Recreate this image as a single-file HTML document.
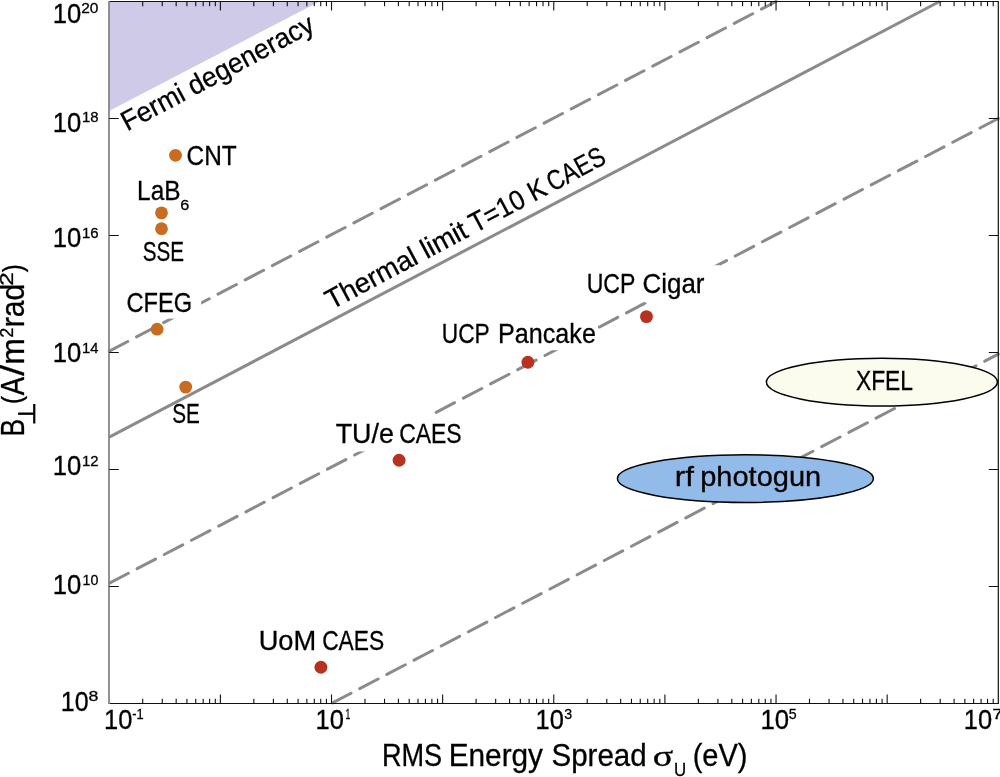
<!DOCTYPE html>
<html><head><meta charset="utf-8"><style>
html,body{margin:0;padding:0;background:#fff;}
svg{display:block;}
text{fill:#000;stroke:#000;stroke-width:0.3px;}
</style></head><body>
<svg width="1000" height="777" viewBox="0 0 1000 777">
<rect width="1000" height="777" fill="#fff"/>
<polygon points="109,111 319.5,1.5 109,1.5" fill="#cecae8"/>
<g fill="none" stroke="#8b8b8b" stroke-width="3" stroke-linecap="round">
<path d="M109.25 437.2L939.6 1.5" stroke-linecap="butt"/>
<g stroke-dasharray="20.8 9.88">
<path d="M109.25 351.2L776 1.5" stroke-dashoffset="-0.09"/>
<path d="M109.25 583.26L998.3 118.46" stroke-dashoffset="-0.77"/>
<path d="M331.4 703.5L998.3 354.1" stroke-dashoffset="-1.27"/>
</g></g>
<g fill="#fff">
<rect x="120" y="283" width="81.2" height="35.6"/>
<rect x="436" y="314" width="161.5" height="36.2"/>
<rect x="329" y="414.6" width="140" height="36.8"/>
<rect x="580" y="265.2" width="140" height="37"/>
</g>
<path d="M109.25 1.5H998.3V703.5H109.25" fill="none" stroke="#111" stroke-width="1.2"/>
<path d="M109 1V704.1" stroke="#7f7f7f" stroke-width="1.7"/>
<path d="M142.7 703.5V698.8M142.7 1.5V6.2M162.27 703.5V698.8M162.27 1.5V6.2M176.16 703.5V698.8M176.16 1.5V6.2M186.93 703.5V698.8M186.93 1.5V6.2M195.73 703.5V698.8M195.73 1.5V6.2M203.17 703.5V698.8M203.17 1.5V6.2M209.61 703.5V698.8M209.61 1.5V6.2M215.3 703.5V698.8M215.3 1.5V6.2M220.38 703.5V694.5M220.38 1.5V10.5M253.84 703.5V698.8M253.84 1.5V6.2M273.4 703.5V698.8M273.4 1.5V6.2M287.29 703.5V698.8M287.29 1.5V6.2M298.06 703.5V698.8M298.06 1.5V6.2M306.86 703.5V698.8M306.86 1.5V6.2M314.3 703.5V698.8M314.3 1.5V6.2M320.74 703.5V698.8M320.74 1.5V6.2M326.43 703.5V698.8M326.43 1.5V6.2M331.51 703.5V694.5M331.51 1.5V10.5M364.97 703.5V698.8M364.97 1.5V6.2M384.54 703.5V698.8M384.54 1.5V6.2M398.42 703.5V698.8M398.42 1.5V6.2M409.19 703.5V698.8M409.19 1.5V6.2M417.99 703.5V698.8M417.99 1.5V6.2M425.43 703.5V698.8M425.43 1.5V6.2M431.87 703.5V698.8M431.87 1.5V6.2M437.56 703.5V698.8M437.56 1.5V6.2M442.64 703.5V694.5M442.64 1.5V10.5M476.1 703.5V698.8M476.1 1.5V6.2M495.67 703.5V698.8M495.67 1.5V6.2M509.55 703.5V698.8M509.55 1.5V6.2M520.32 703.5V698.8M520.32 1.5V6.2M529.12 703.5V698.8M529.12 1.5V6.2M536.56 703.5V698.8M536.56 1.5V6.2M543.01 703.5V698.8M543.01 1.5V6.2M548.69 703.5V698.8M548.69 1.5V6.2M553.77 703.5V694.5M553.77 1.5V10.5M587.23 703.5V698.8M587.23 1.5V6.2M606.8 703.5V698.8M606.8 1.5V6.2M620.68 703.5V698.8M620.68 1.5V6.2M631.45 703.5V698.8M631.45 1.5V6.2M640.25 703.5V698.8M640.25 1.5V6.2M647.69 703.5V698.8M647.69 1.5V6.2M654.14 703.5V698.8M654.14 1.5V6.2M659.82 703.5V698.8M659.82 1.5V6.2M664.91 703.5V694.5M664.91 1.5V10.5M698.36 703.5V698.8M698.36 1.5V6.2M717.93 703.5V698.8M717.93 1.5V6.2M731.81 703.5V698.8M731.81 1.5V6.2M742.58 703.5V698.8M742.58 1.5V6.2M751.38 703.5V698.8M751.38 1.5V6.2M758.82 703.5V698.8M758.82 1.5V6.2M765.27 703.5V698.8M765.27 1.5V6.2M770.95 703.5V698.8M770.95 1.5V6.2M776.04 703.5V694.5M776.04 1.5V10.5M809.49 703.5V698.8M809.49 1.5V6.2M829.06 703.5V698.8M829.06 1.5V6.2M842.95 703.5V698.8M842.95 1.5V6.2M853.71 703.5V698.8M853.71 1.5V6.2M862.51 703.5V698.8M862.51 1.5V6.2M869.95 703.5V698.8M869.95 1.5V6.2M876.4 703.5V698.8M876.4 1.5V6.2M882.08 703.5V698.8M882.08 1.5V6.2M887.17 703.5V694.5M887.17 1.5V10.5M920.62 703.5V698.8M920.62 1.5V6.2M940.19 703.5V698.8M940.19 1.5V6.2M954.08 703.5V698.8M954.08 1.5V6.2M964.85 703.5V698.8M964.85 1.5V6.2M973.65 703.5V698.8M973.65 1.5V6.2M981.09 703.5V698.8M981.09 1.5V6.2M987.53 703.5V698.8M987.53 1.5V6.2M993.21 703.5V698.8M993.21 1.5V6.2M109.25 586.5H118.75M998.3 586.5H988.8M109.25 469.5H118.75M998.3 469.5H988.8M109.25 352.5H118.75M998.3 352.5H988.8M109.25 235.5H118.75M998.3 235.5H988.8M109.25 118.5H118.75M998.3 118.5H988.8" stroke="#111" stroke-width="1.1" fill="none"/>
<g fill="#c86c1f">
<circle cx="175.5" cy="155.3" r="6.4"/>
<circle cx="161.5" cy="212.9" r="6.4"/>
<circle cx="161.5" cy="228.7" r="6.4"/>
<circle cx="157.1" cy="329.2" r="6.4"/>
<circle cx="185.7" cy="387.1" r="6.4"/>
</g>
<g fill="#b83220">
<circle cx="646.5" cy="316.6" r="6.45"/>
<circle cx="527.9" cy="362.3" r="6.45"/>
<circle cx="399.1" cy="460.2" r="6.45"/>
<circle cx="320.9" cy="667.2" r="6.45"/>
</g>
<ellipse cx="745.4" cy="478.6" rx="128" ry="23.8" fill="#93bbea" stroke="#000" stroke-width="1.5"/>
<ellipse cx="881.9" cy="382.1" rx="115.5" ry="23.9" fill="#fcfcee" stroke="#000" stroke-width="1.5"/>
<text x="52.7" y="22.8" font-family="'Liberation Sans', sans-serif" font-size="27.2" textLength="28.54" lengthAdjust="spacingAndGlyphs">10</text>
<text x="81.27" y="13.4" font-family="'Liberation Sans', sans-serif" font-size="15.4" textLength="17.21" lengthAdjust="spacingAndGlyphs">20</text>
<text x="52.7" y="131.5" font-family="'Liberation Sans', sans-serif" font-size="27.2" textLength="28.54" lengthAdjust="spacingAndGlyphs">10</text>
<text x="82.06" y="122.2" font-family="'Liberation Sans', sans-serif" font-size="15.4" textLength="16.64" lengthAdjust="spacingAndGlyphs">18</text>
<text x="52.7" y="247.3" font-family="'Liberation Sans', sans-serif" font-size="27.2" textLength="28.54" lengthAdjust="spacingAndGlyphs">10</text>
<text x="82.06" y="238.3" font-family="'Liberation Sans', sans-serif" font-size="15.4" textLength="16.64" lengthAdjust="spacingAndGlyphs">16</text>
<text x="52.7" y="362" font-family="'Liberation Sans', sans-serif" font-size="27.2" textLength="28.54" lengthAdjust="spacingAndGlyphs">10</text>
<text x="82.08" y="352.8" font-family="'Liberation Sans', sans-serif" font-size="15.4" textLength="16.39" lengthAdjust="spacingAndGlyphs">14</text>
<text x="52.7" y="475.2" font-family="'Liberation Sans', sans-serif" font-size="27.2" textLength="28.54" lengthAdjust="spacingAndGlyphs">10</text>
<text x="82.06" y="466.1" font-family="'Liberation Sans', sans-serif" font-size="15.4" textLength="16.64" lengthAdjust="spacingAndGlyphs">12</text>
<text x="52.7" y="594.1" font-family="'Liberation Sans', sans-serif" font-size="27.2" textLength="28.54" lengthAdjust="spacingAndGlyphs">10</text>
<text x="82.61" y="584.7" font-family="'Liberation Sans', sans-serif" font-size="15.4" textLength="15.85" lengthAdjust="spacingAndGlyphs">10</text>
<text x="60.84" y="710.6" font-family="'Liberation Sans', sans-serif" font-size="27.2" textLength="27.78" lengthAdjust="spacingAndGlyphs">10</text>
<text x="88.45" y="701.4" font-family="'Liberation Sans', sans-serif" font-size="15.4" textLength="9.87" lengthAdjust="spacingAndGlyphs">8</text>
<text x="104.11" y="728.6" font-family="'Liberation Sans', sans-serif" font-size="27.2" textLength="28.33" lengthAdjust="spacingAndGlyphs">10</text>
<text x="132.3" y="719" font-family="'Liberation Sans', sans-serif" font-size="15.4" textLength="11.42" lengthAdjust="spacingAndGlyphs">-1</text>
<text x="315.61" y="728.6" font-family="'Liberation Sans', sans-serif" font-size="27.2" textLength="28.33" lengthAdjust="spacingAndGlyphs">10</text>
<text x="345.46" y="719" font-family="'Liberation Sans', sans-serif" font-size="15.4" textLength="4.79" lengthAdjust="spacingAndGlyphs">1</text>
<text x="535.61" y="728.6" font-family="'Liberation Sans', sans-serif" font-size="27.2" textLength="28.33" lengthAdjust="spacingAndGlyphs">10</text>
<text x="564.35" y="718.8" font-family="'Liberation Sans', sans-serif" font-size="15.4" textLength="7.92" lengthAdjust="spacingAndGlyphs">3</text>
<text x="760.39" y="728.6" font-family="'Liberation Sans', sans-serif" font-size="27.2" textLength="28.65" lengthAdjust="spacingAndGlyphs">10</text>
<text x="788.85" y="718.8" font-family="'Liberation Sans', sans-serif" font-size="15.4" textLength="7.92" lengthAdjust="spacingAndGlyphs">5</text>
<text x="963.81" y="728.6" font-family="'Liberation Sans', sans-serif" font-size="27.2" textLength="28.33" lengthAdjust="spacingAndGlyphs">10</text>
<text x="992.21" y="719" font-family="'Liberation Sans', sans-serif" font-size="15.4" textLength="10.56" lengthAdjust="spacingAndGlyphs">7</text>
<text x="186.56" y="164.6" font-family="'Liberation Sans', sans-serif" font-size="27.8" textLength="50.16" lengthAdjust="spacingAndGlyphs">CNT</text>
<text x="137.09" y="200.3" font-family="'Liberation Sans', sans-serif" font-size="27.8" textLength="43.43" lengthAdjust="spacingAndGlyphs">LaB</text>
<text x="180.24" y="209.6" font-family="'Liberation Sans', sans-serif" font-size="15.2" textLength="9.02" lengthAdjust="spacingAndGlyphs">6</text>
<text x="142.86" y="261" font-family="'Liberation Sans', sans-serif" font-size="27.8" textLength="41.21" lengthAdjust="spacingAndGlyphs">SSE</text>
<text x="126.39" y="311.7" font-family="'Liberation Sans', sans-serif" font-size="27.8" textLength="65.67" lengthAdjust="spacingAndGlyphs">CFEG</text>
<text x="172.25" y="422.7" font-family="'Liberation Sans', sans-serif" font-size="27.8" textLength="27.62" lengthAdjust="spacingAndGlyphs">SE</text>
<text x="586.66" y="293.4" font-family="'Liberation Sans', sans-serif" font-size="27.8" textLength="48.71" lengthAdjust="spacingAndGlyphs">UCP</text>
<text x="642.53" y="293.4" font-family="'Liberation Sans', sans-serif" font-size="27.8" textLength="61.99" lengthAdjust="spacingAndGlyphs">Cigar</text>
<text x="441.78" y="342.7" font-family="'Liberation Sans', sans-serif" font-size="27.8" textLength="47.97" lengthAdjust="spacingAndGlyphs">UCP</text>
<text x="498.03" y="342.7" font-family="'Liberation Sans', sans-serif" font-size="27.8" textLength="97.88" lengthAdjust="spacingAndGlyphs">Pancake</text>
<text x="335.68" y="443.4" font-family="'Liberation Sans', sans-serif" font-size="27.8" textLength="58.21" lengthAdjust="spacingAndGlyphs">TU/e</text>
<text x="399.13" y="443.4" font-family="'Liberation Sans', sans-serif" font-size="27.8" textLength="62.44" lengthAdjust="spacingAndGlyphs">CAES</text>
<text x="258.7" y="650" font-family="'Liberation Sans', sans-serif" font-size="27.8" textLength="57.54" lengthAdjust="spacingAndGlyphs">UoM</text>
<text x="322.13" y="650" font-family="'Liberation Sans', sans-serif" font-size="27.8" textLength="62.02" lengthAdjust="spacingAndGlyphs">CAES</text>
<text x="674.74" y="486.3" font-family="'Liberation Sans', sans-serif" font-size="27.8" textLength="19.15" lengthAdjust="spacingAndGlyphs">rf</text>
<text x="700.19" y="486.3" font-family="'Liberation Sans', sans-serif" font-size="27.8" textLength="121.04" lengthAdjust="spacingAndGlyphs">photogun</text>
<text x="855.94" y="390" font-family="'Liberation Sans', sans-serif" font-size="27.8" textLength="57.13" lengthAdjust="spacingAndGlyphs">XFEL</text>
<text x="381.88" y="766" font-family="'Liberation Sans', sans-serif" font-size="32" textLength="60.26" lengthAdjust="spacingAndGlyphs">RMS</text>
<text x="448.67" y="766" font-family="'Liberation Sans', sans-serif" font-size="32" textLength="94.33" lengthAdjust="spacingAndGlyphs">Energy</text>
<text x="551.48" y="766" font-family="'Liberation Sans', sans-serif" font-size="32" textLength="95.18" lengthAdjust="spacingAndGlyphs">Spread</text>
<text x="652.81" y="766" font-family="'Liberation Serif', serif" font-size="28.5" textLength="20.48" lengthAdjust="spacingAndGlyphs">σ</text>
<text x="673.95" y="776" font-family="'Liberation Sans', sans-serif" font-size="19" textLength="12.16" lengthAdjust="spacingAndGlyphs">U</text>
<text x="692.64" y="766" font-family="'Liberation Sans', sans-serif" font-size="32" textLength="54.86" lengthAdjust="spacingAndGlyphs">(eV)</text>
<text x="127.02" y="130.5" font-family="'Liberation Sans', sans-serif" font-size="27.8" textLength="214.38" lengthAdjust="spacingAndGlyphs" transform="rotate(-28.2 129.1 130.5)">Fermi degeneracy</text>
<g transform="translate(331.8 309.9) rotate(-28.1)">
<text x="-0.43" y="0" font-family="'Liberation Sans', sans-serif" font-size="27.8" textLength="100.33" lengthAdjust="spacingAndGlyphs">Thermal</text>
<text x="107.59" y="0" font-family="'Liberation Sans', sans-serif" font-size="27.8" textLength="48.62" lengthAdjust="spacingAndGlyphs">limit</text>
<text x="162.7" y="0" font-family="'Liberation Sans', sans-serif" font-size="27.8" textLength="59.24" lengthAdjust="spacingAndGlyphs">T=10</text>
<text x="229" y="0" font-family="'Liberation Sans', sans-serif" font-size="27.8" textLength="17.08" lengthAdjust="spacingAndGlyphs">K</text>
<text x="250.53" y="0" font-family="'Liberation Sans', sans-serif" font-size="27.8" textLength="62.13" lengthAdjust="spacingAndGlyphs">CAES</text>
</g>
<g transform="translate(23.9 435) rotate(-90)">
<text x="-1.46" y="0" font-family="'Liberation Sans', sans-serif" font-size="32.5" textLength="17.56" lengthAdjust="spacingAndGlyphs">B</text>
<text x="9.73" y="11.2" font-family="'DejaVu Sans', sans-serif" font-size="23.5" textLength="23.03" lengthAdjust="spacingAndGlyphs" style="stroke-width:0.75px">⊥</text>
<text x="30.97" y="-2.5" font-family="'Liberation Sans', sans-serif" font-size="27.9" textLength="8.05" lengthAdjust="spacingAndGlyphs">(</text>
<text x="39.8" y="0" font-family="'Liberation Sans', sans-serif" font-size="32.5" textLength="18.27" lengthAdjust="spacingAndGlyphs">A</text>
<text x="59.2" y="0" font-family="'Liberation Sans', sans-serif" font-size="32.5" textLength="10.67" lengthAdjust="spacingAndGlyphs">/</text>
<text x="70.3" y="0" font-family="'Liberation Sans', sans-serif" font-size="32.5" textLength="26.66" lengthAdjust="spacingAndGlyphs">m</text>
<text x="97.15" y="-10.9" font-family="'Liberation Sans', sans-serif" font-size="18.5" textLength="10.08" lengthAdjust="spacingAndGlyphs">2</text>
<text x="107.82" y="0" font-family="'Liberation Sans', sans-serif" font-size="32.5" textLength="43.36" lengthAdjust="spacingAndGlyphs">rad</text>
<text x="149.26" y="-11.2" font-family="'Liberation Sans', sans-serif" font-size="18.5" textLength="13.53" lengthAdjust="spacingAndGlyphs">2</text>
<text x="162.8" y="-2.4" font-family="'Liberation Sans', sans-serif" font-size="28.2" textLength="7.93" lengthAdjust="spacingAndGlyphs">)</text>
</g>
</svg>
</body></html>
